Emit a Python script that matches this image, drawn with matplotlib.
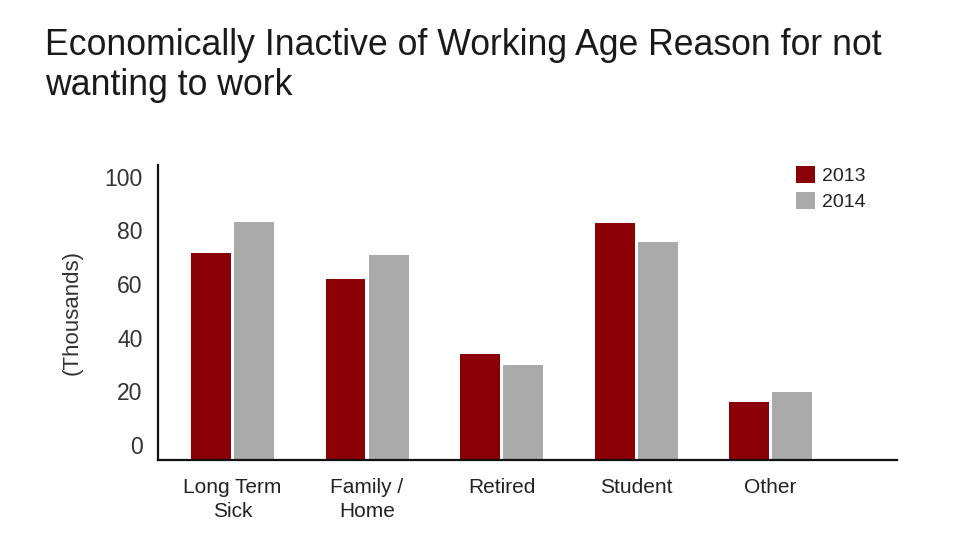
import matplotlib
matplotlib.use('Agg')
import matplotlib.pyplot as plt
import numpy as np

plt.rcParams['font.family'] = ['Liberation Sans', 'DejaVu Sans']

# Data (thousands)
categories = ['Long Term\nSick', 'Family /\nHome', 'Retired', 'Student', 'Other']
years = ['2013', '2014']
values_2013 = [71.4, 61.8, 33.9, 82.8, 15.9]
values_2014 = [83.2, 70.8, 29.8, 75.7, 19.6]
y_ticks = [0, 20, 40, 60, 80, 100]

colors = ['#8B0006', '#AAAAAA']
y_min, y_max = -5.6, 104.3

fig = plt.figure(figsize=(9.76, 5.49), dpi=100)
ax = fig.add_axes([158 / 976, 1 - 460 / 549, (897 - 158) / 976, (460 - 165) / 549])

x = np.arange(len(categories))
width = 0.297
offset = 0.16

# bars start at the bottom of the axis
ax.bar(x - offset, np.array(values_2013) - y_min, width, bottom=y_min,
       color=colors[0], label=years[0])
ax.bar(x + offset, np.array(values_2014) - y_min, width, bottom=y_min,
       color=colors[1], label=years[1])

ax.set_xlim(-0.554, 4.94)
ax.set_ylim(y_min, y_max)
ax.set_yticks(y_ticks)
ax.set_yticklabels([str(t) for t in y_ticks], fontsize=16.5, color='#333333')
ax.set_xticks(x)
ax.set_xticklabels(categories, fontsize=15, color='#222222', linespacing=1.3)
ax.tick_params(axis='both', length=0)
ax.tick_params(axis='y', pad=11)
ax.tick_params(axis='x', pad=13)

for side in ['top', 'right']:
    ax.spines[side].set_visible(False)
for side in ['left', 'bottom']:
    ax.spines[side].set_linewidth(1.6)
    ax.spines[side].set_color('#111111')

ax.set_ylabel('(Thousands)', fontsize=16, color='#333333', labelpad=16)

leg = ax.legend(loc='upper left', bbox_to_anchor=(782 / 976, 1 - 152 / 549),
                bbox_transform=fig.transFigure, frameon=False, fontsize=14,
                handlelength=1.0, handleheight=1.0, handletextpad=0.35,
                labelspacing=0.35, borderpad=0.2)
for t in leg.get_texts():
    t.set_color('#222222')

fig.text(45 / 976, 1 - 55 / 549, 'Economically Inactive of Working Age Reason for not',
         fontsize=25.7, color='#1a1a1a', va='baseline', ha='left')
fig.text(45 / 976, 1 - 95 / 549, 'wanting to work',
         fontsize=25.7, color='#1a1a1a', va='baseline', ha='left')

fig.savefig('out.png', dpi=100)
